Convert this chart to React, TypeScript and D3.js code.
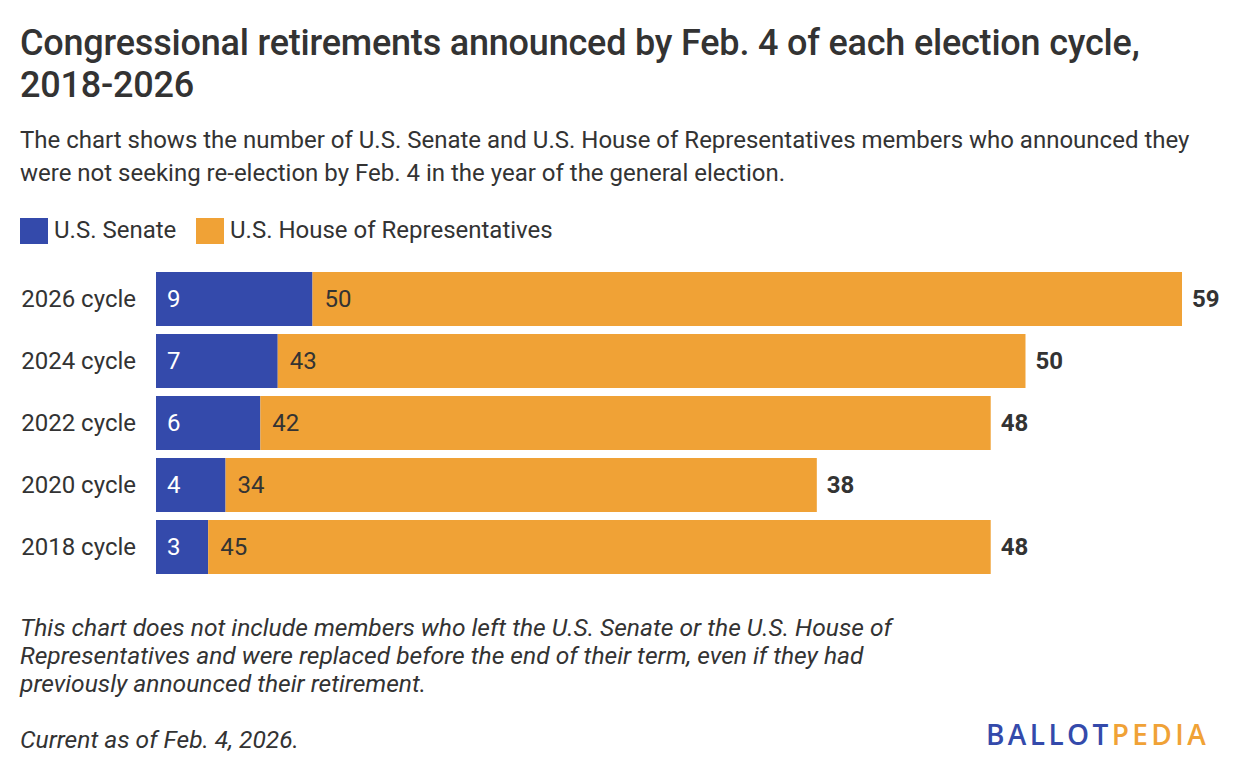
import React from 'react';
import * as d3 from 'd3';

// Data
const cycles = ['2026 cycle', '2024 cycle', '2022 cycle', '2020 cycle', '2018 cycle'];
const senate = [9, 7, 6, 4, 3];
const house = [50, 43, 42, 34, 45];
const seriesNames = ['U.S. Senate', 'U.S. House of Representatives'];

const W = 1240;
const H = 774;
const BLUE = '#344aab';
const ORANGE = '#f0a236';
const TEXT = '#333333';
const FONT = 'Roboto, "Noto Sans", sans-serif';
const FS = 24;

const App: React.FC = () => {
  const totals = cycles.map((_, i) => senate[i] + house[i]);

  const x = d3.scaleLinear().domain([0, d3.max(totals)!]).range([156, 1182]);
  const y = d3.scaleBand().domain(cycles).range([272, 574]).paddingInner(0.129).paddingOuter(0);

  return (
    <svg width={W} height={H} style={{ display: 'block', position: 'absolute', left: 0, top: 0 }} fontFamily={FONT}>
      <rect width={W} height={H} fill="#fff" />

      {/* Title */}
      <g fontSize={36} fontWeight={500} letterSpacing={-0.2} fill={TEXT}>
        <text x={20} y={55}>Congressional retirements announced by Feb. 4 of each election cycle,</text>
        <text x={20} y={97}>2018-2026</text>
      </g>

      {/* Subtitle */}
      <text x={20} y={148} fontSize={FS} fill={TEXT}>
        The chart shows the number of U.S. Senate and U.S. House of Representatives members who announced they
      </text>
      <text x={20} y={181} fontSize={FS} fill={TEXT}>
        were not seeking re-election by Feb. 4 in the year of the general election.
      </text>

      {/* Legend */}
      <g>
        <rect x={20} y={218} width={28} height={26} fill={BLUE} />
        <text x={54} y={238} fontSize={FS} fill={TEXT}>{seriesNames[0]}</text>
        <rect x={196} y={218} width={28} height={26} fill={ORANGE} />
        <text x={230} y={238} fontSize={FS} fill={TEXT}>{seriesNames[1]}</text>
      </g>

      {/* Bars */}
      {cycles.map((c, i) => {
        const y0 = y(c)!;
        const bh = y.bandwidth();
        const cy = y0 + bh / 2;
        return (
          <g key={c}>
            <text x={136} y={cy} dy="0.35em" textAnchor="end" fontSize={FS} fill={TEXT}>{c}</text>
            <rect x={x(0)} y={y0} width={x(senate[i]) - x(0)} height={bh} fill={BLUE} />
            <rect x={x(senate[i])} y={y0} width={x(totals[i]) - x(senate[i])} height={bh} fill={ORANGE} />
            <text x={x(0) + 11} y={cy} dy="0.35em" fontSize={FS} fill="#fff">{senate[i]}</text>
            <text x={x(senate[i]) + 12} y={cy} dy="0.35em" fontSize={FS} fill={TEXT}>{house[i]}</text>
            <text x={x(totals[i]) + 10} y={cy} dy="0.35em" fontSize={FS} fontWeight={700} fill={TEXT}>{totals[i]}</text>
          </g>
        );
      })}

      {/* Footnote */}
      <g fontStyle="italic" fontSize={24.6} fill={TEXT}>
        <text x={20} y={636}>This chart does not include members who left the U.S. Senate or the U.S. House of</text>
        <text x={20} y={664}>Representatives and were replaced before the end of their term, even if they had</text>
        <text x={20} y={692}>previously announced their retirement.</text>
        <text x={20} y={748}>Current as of Feb. 4, 2026.</text>
      </g>

      {/* Logo */}
      <text x={986} y={745} fontSize={28} fontWeight={600} letterSpacing={3.4} fontFamily={'"Open Sans", sans-serif'}>
        <tspan fill={BLUE}>BALLOT</tspan>
        <tspan fill={ORANGE}>PEDIA</tspan>
      </text>
    </svg>
  );
};

export default App;
